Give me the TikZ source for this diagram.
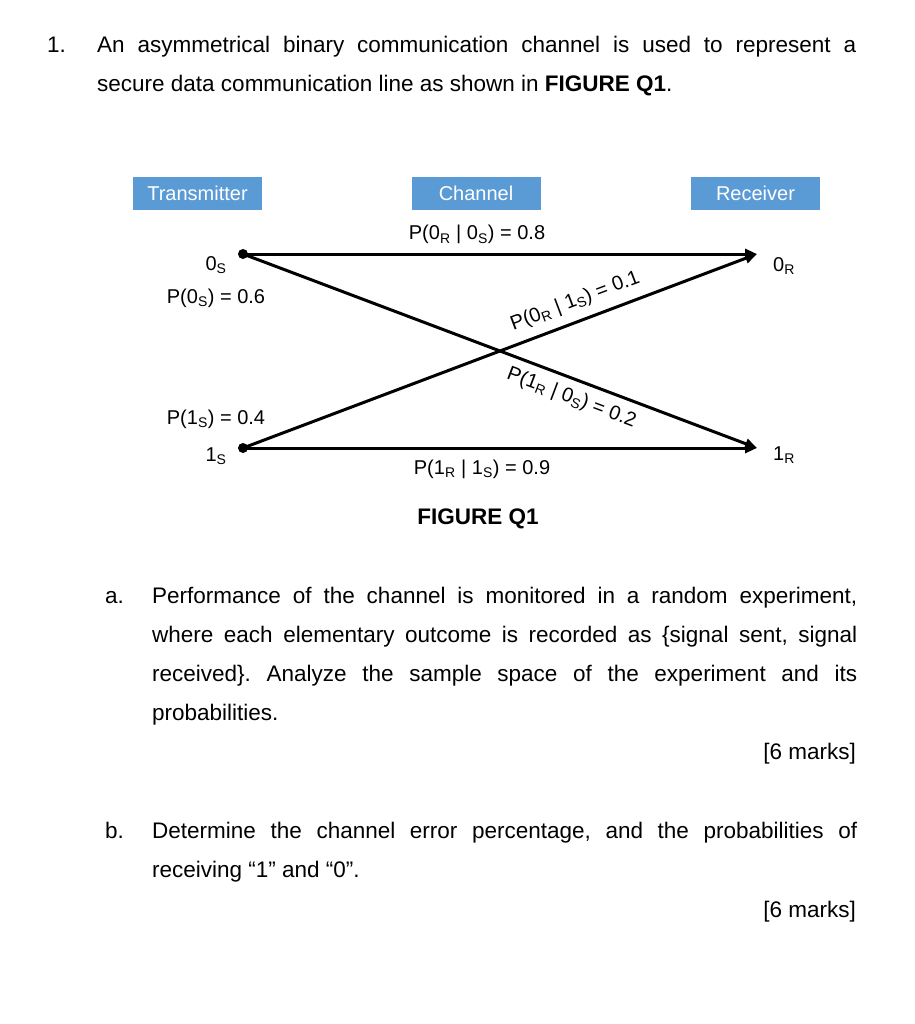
\documentclass[tikz,border=0pt]{standalone}
\usepackage{fontspec}
\setmainfont{Liberation Sans}
\usetikzlibrary{arrows.meta}

\definecolor{boxblue}{RGB}{91,155,213}
\newcommand{\lo}[1]{\textsubscript{#1}}
\frenchspacing

\tikzset{
  box/.style={fill=boxblue, text=white, minimum width=129pt, minimum height=33pt,
    inner sep=0pt, font=\fontsize{20}{24}\selectfont},
  lbl/.style={inner sep=0pt, anchor=base, font=\fontsize{20}{24}\selectfont},
  txt/.style={inner sep=0pt, anchor=base west, font=\fontsize{22.5}{27}\selectfont},
  link/.style={line width=3pt, -{Triangle[length=12pt,width=10pt]}},
  dot/.style={circle, fill, inner sep=0pt, minimum size=10pt},
}

\begin{document}
\begin{tikzpicture}[x=1pt, y=-1pt]
  \useasboundingbox (0,0) rectangle (914,1024);

  % question text
  \node[txt] (q1n) at (47,53) {1.};
  \node[txt] (q1a) at (97,53) {\makebox[759pt][s]{An asymmetrical binary communication channel is used to represent a}};
  \node[txt] (q1b) at (97,92) {secure data communication line as shown in \textbf{FIGURE Q1}.};

  % the channel
  \node[box] (tx) at (197.5,193.5) {Transmitter};
  \node[box] (ch) at (476,193.5) {Channel};
  \node[box] (rx) at (755.5,193.5) {Receiver};

  \node[dot] (s0) at (243,254) {};
  \node[dot] (s1) at (243,448) {};
  \coordinate (r0) at (757,254);
  \coordinate (r1) at (757,448);

  \draw[link] (s0.center) -- (r0);
  \draw[link] (s1.center) -- (r1);
  \draw[link] (s1.center) -- node[lbl, sloped, anchor=south, pos=0.66, inner sep=9pt] {P(0\lo{R} | 1\lo{S}) = 0.1} (r0);
  \draw[link] (s0.center) -- node[lbl, sloped, anchor=north, pos=0.652, inner sep=8pt] {P(1\lo{R} | 0\lo{S}) = 0.2} (r1);

  \node[lbl] (p00) at (477,240) {P(0\lo{R} | 0\lo{S}) = 0.8};
  \node[lbl] (p11) at (482,474) {P(1\lo{R} | 1\lo{S}) = 0.9};
  \node[lbl] (l0s) at (216,270) {0\lo{S}};
  \node[lbl] (ps0) at (216,303) {P(0\lo{S}) = 0.6};
  \node[lbl] (ps1) at (216,424) {P(1\lo{S}) = 0.4};
  \node[lbl] (l1s) at (216,461) {1\lo{S}};
  \node[lbl] (l0r) at (784,271) {0\lo{R}};
  \node[lbl] (l1r) at (784,460) {1\lo{R}};

  \node[txt, anchor=base] (fig) at (478,524) {\textbf{FIGURE Q1}};

  % part a
  \node[txt] (an) at (105,603) {a.};
  \node[txt] (a1) at (152,603) {\makebox[705pt][s]{Performance of the channel is monitored in a random experiment,}};
  \node[txt] (a2) at (152,642) {\makebox[705pt][s]{where each elementary outcome is recorded as \{signal sent, signal}};
  \node[txt] (a3) at (152,681) {\makebox[705pt][s]{received\}. Analyze the sample space of the experiment and its}};
  \node[txt] (a4) at (152,720) {probabilities.};
  \node[txt, anchor=base east] (am) at (856,759) {[6 marks]};

  % part b
  \node[txt] (bn) at (105,838) {b.};
  \node[txt] (b1) at (152,838) {\makebox[705pt][s]{Determine the channel error percentage, and the probabilities of}};
  \node[txt] (b2) at (152,877) {receiving “1” and “0”.};
  \node[txt, anchor=base east] (bm) at (856,917) {[6 marks]};
\end{tikzpicture}
\end{document}
